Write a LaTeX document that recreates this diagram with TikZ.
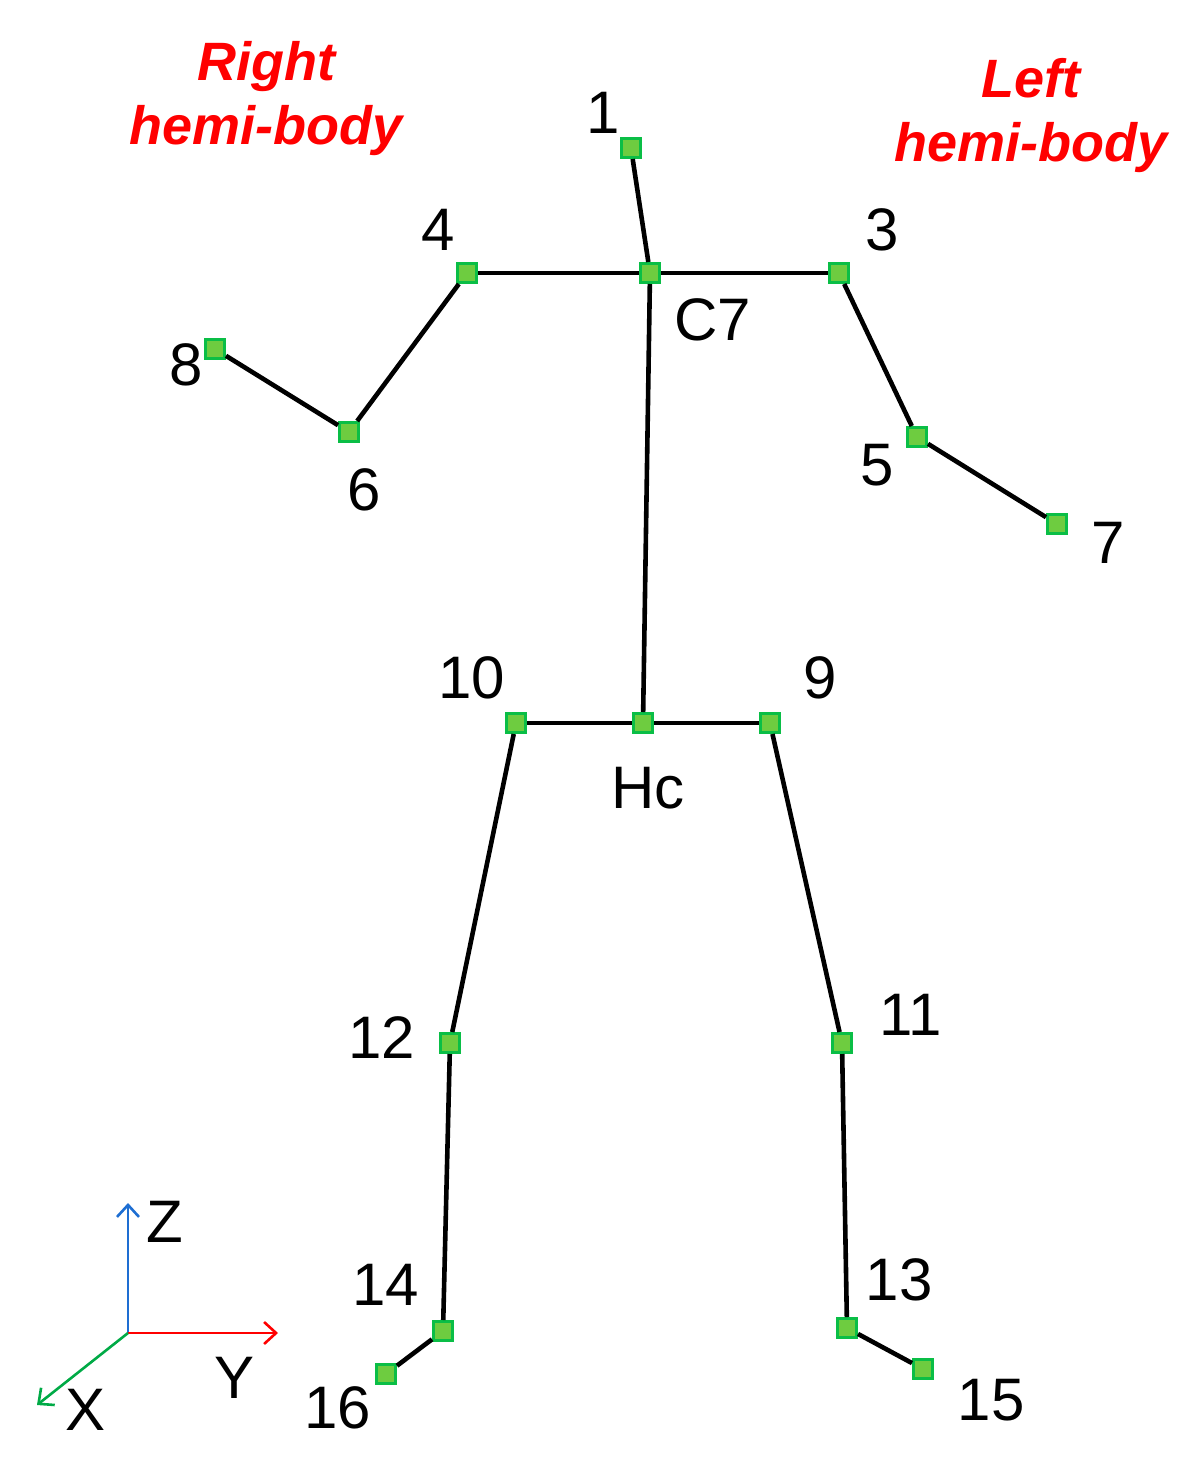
\documentclass[tikz,border=0pt]{standalone}
\usepackage{fontspec}
\setmainfont{Liberation Sans}
\usetikzlibrary{arrows.meta}

\definecolor{markfill}{RGB}{110,204,64}
\definecolor{markline}{RGB}{10,190,70}
\definecolor{axisz}{RGB}{30,110,210}
\definecolor{axisx}{RGB}{0,170,70}

\tikzset{
	marker/.style={draw=markline, fill=markfill, line width=1.6pt, minimum size=9.4pt, inner sep=0pt},
	bone/.style={line width=2.3pt},
	num/.style={font=\fontsize{30}{30}\selectfont},
	side/.style={text=red, font=\fontsize{27}{32}\selectfont\bfseries\itshape, align=center},
	axis/.style={line width=1.3pt, -{Straight Barb[length=6pt,width=11pt]}},
}

\begin{document}
\begin{tikzpicture}[x=0.5pt, y=-0.5pt]
	\useasboundingbox (0,0) rectangle (1194,1477);

	% markers
	\node[marker] (m1) at (631,148) {};
	\node[marker] (c7) at (650,273) {};
	\node[marker] (m4) at (467,273) {};
	\node[marker] (m3) at (839,273) {};
	\node[marker] (m8) at (215,349) {};
	\node[marker] (m6) at (349,432) {};
	\node[marker] (m5) at (917,437) {};
	\node[marker] (m7) at (1057,524) {};
	\node[marker] (hc) at (643,723) {};
	\node[marker] (m10) at (516,723) {};
	\node[marker] (m9) at (770,723) {};
	\node[marker] (m12) at (450,1043) {};
	\node[marker] (m11) at (842,1043) {};
	\node[marker] (m14) at (443,1331) {};
	\node[marker] (m16) at (386,1374) {};
	\node[marker] (m13) at (847,1328) {};
	\node[marker] (m15) at (923,1369) {};

	% segments
	\draw[bone] (m1) -- (c7);
	\draw[bone] (m4) -- (c7);
	\draw[bone] (c7) -- (m3);
	\draw[bone] (m4) -- (m6);
	\draw[bone] (m6) -- (m8);
	\draw[bone] (m3) -- (m5);
	\draw[bone] (m5) -- (m7);
	\draw[bone] (c7) -- (hc);
	\draw[bone] (m10) -- (hc);
	\draw[bone] (hc) -- (m9);
	\draw[bone] (m10) -- (m12);
	\draw[bone] (m12) -- (m14);
	\draw[bone] (m14) -- (m16);
	\draw[bone] (m9) -- (m11);
	\draw[bone] (m11) -- (m13);
	\draw[bone] (m13) -- (m15);

	% labels
	\node[num] (l1) at (603,113) {1};
	\node[num] (l4) at (438,230) {4};
	\node[num] (l3) at (882,230) {3};
	\node[num] (lc7) at (713,320) {C7};
	\node[num] (l8) at (186,365) {8};
	\node[num] (l6) at (364,490) {6};
	\node[num] (l5) at (877,465) {5};
	\node[num] (l7) at (1108,543) {7};
	\node[num] (l10) at (472,678) {10};
	\node[num] (l9) at (820,678) {9};
	\node[num] (lhc) at (648,788) {Hc};
	\node[num] (l12) at (382,1038) {12};
	\node[num] (l11) at (911,1015) {11};
	\node[num] (l14) at (386,1285) {14};
	\node[num] (l13) at (899,1280) {13};
	\node[num] (l16) at (338,1408) {16};
	\node[num] (l15) at (991,1400) {15};

	\node[side] (right) at (266,99) {Right\\hemi-body};
	\node[side] (left) at (1031,116) {Left\\hemi-body};

	% axes
	\coordinate (o) at (128,1333);
	\coordinate (zend) at (128,1203);
	\coordinate (yend) at (278,1333);
	\coordinate (xend) at (37,1405);
	\draw[axis, axisz] (o) -- (zend);
	\draw[axis, red] (o) -- (yend);
	\draw[axis, axisx] (o) -- (xend);
	\node[num] (lz) at (165,1222) {Z};
	\node[num] (ly) at (235,1378) {Y};
	\node[num] (lx) at (86,1410) {X};
\end{tikzpicture}
\end{document}
